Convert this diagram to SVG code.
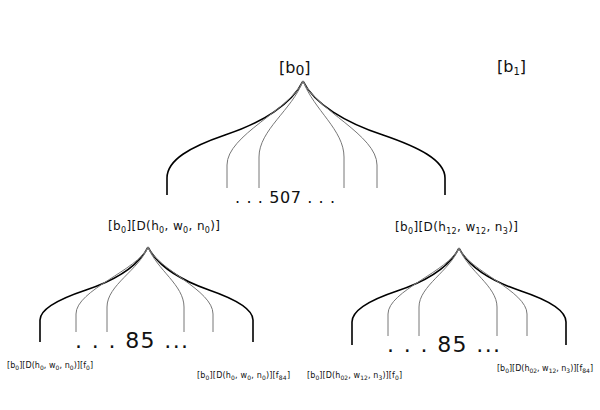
<svg xmlns="http://www.w3.org/2000/svg" width="600" height="410" viewBox="0 0 600 410">
<style>
text{font-family:"DejaVu Sans","Liberation Sans",sans-serif;fill:#111}
.outer{fill:none;stroke:#000;stroke-width:1.6}
.inner{fill:none;stroke:#777;stroke-width:1}
.root{font-size:16px}
.mid{font-size:12px}
.leaf{font-size:8px}
.cnt{font-size:22px}
</style>
<rect width="600" height="410" fill="#fff"/>
<g id="connectors">
<path class="outer" d="M303,81 C292,104 262,123 225,135 C190,147 167,160 167,178 L167,195"/>
<path class="outer" d="M303,81 C314,104 346,123 383,135 C418,147 445,160 445,178 L445,195"/>
<path class="inner" d="M303,81 C290,110 227,135 227,165 L227,188"/>
<path class="inner" d="M303,81 C292,110 259,130 259,157 L259,188"/>
<path class="inner" d="M303,81 C314,110 344,130 344,157 L344,188"/>
<path class="inner" d="M303,81 C316,110 377,135 377,165 L377,188"/>

<path class="outer" d="M148,247 C139,265 116,280 86,290 C59,299 40,309 40,320 L40,342"/>
<path class="outer" d="M148,247 C157,265 180,280 209,290 C235,299 253,309 253,320 L253,342"/>
<path class="inner" d="M148,247 C138,270 76,290 76,314 L76,332"/>
<path class="inner" d="M148,247 C139,270 107,285 107,307 L107,332"/>
<path class="inner" d="M148,247 C157,270 184,285 184,307 L184,332"/>
<path class="inner" d="M148,247 C158,270 213,290 213,314 L213,332"/>

<path class="outer" d="M459,248 C450,266 427,281 397,291 C370,300 352,310 352,322 L352,345"/>
<path class="outer" d="M459,248 C468,266 491,281 521,291 C548,300 566,310 566,322 L566,345"/>
<path class="inner" d="M459,248 C449,271 388,291 388,314 L388,336"/>
<path class="inner" d="M459,248 C450,271 419,286 419,307 L419,336"/>
<path class="inner" d="M459,248 C468,271 497,286 497,307 L497,336"/>
<path class="inner" d="M459,248 C469,271 527,291 527,314 L527,336"/>
</g>
<g id="b0">
<text class="root" x="279" y="73">[b<tspan font-size="14" dy="2">0</tspan><tspan dy="-2">]</tspan></text>
</g>
<g id="b1">
<text class="root" x="497" y="72">[b<tspan font-size="10" dy="3">1</tspan><tspan dy="-3">]</tspan></text>
</g>
<g id="count507">
<text font-size="16" x="235" y="203" textLength="100" lengthAdjust="spacing">. . .  507  . . .</text>
</g>
<g id="nodeL">
<text class="mid" x="108" y="230" textLength="112" lengthAdjust="spacing">[b<tspan font-size="8" dy="3">0</tspan><tspan dy="-3">][D(h</tspan><tspan font-size="8" dy="3">0</tspan><tspan dy="-3">, w</tspan><tspan font-size="8" dy="3">0</tspan><tspan dy="-3">, n</tspan><tspan font-size="8" dy="3">0</tspan><tspan dy="-3">)]</tspan></text>
</g>
<g id="nodeR">
<text class="mid" x="395" y="231" textLength="123" lengthAdjust="spacing">[b<tspan font-size="8" dy="3">0</tspan><tspan dy="-3">][D(h</tspan><tspan font-size="8" dy="3">12</tspan><tspan dy="-3">, w</tspan><tspan font-size="8" dy="3">12</tspan><tspan dy="-3">, n</tspan><tspan font-size="8" dy="3">3</tspan><tspan dy="-3">)]</tspan></text>
</g>
<g id="count85L">
<text class="cnt" x="75" y="348" textLength="113" lengthAdjust="spacing">. . . 85 ...</text>
</g>
<g id="count85R">
<text class="cnt" x="387" y="352" textLength="113" lengthAdjust="spacing">. . . 85 ...</text>
</g>
<g id="leafL0">
<text class="leaf" x="7" y="368" textLength="86" lengthAdjust="spacing">[b<tspan font-size="6" dy="2">0</tspan><tspan dy="-2">][D(h</tspan><tspan font-size="6" dy="2">0</tspan><tspan dy="-2">, w</tspan><tspan font-size="6" dy="2">0</tspan><tspan dy="-2">, n</tspan><tspan font-size="6" dy="2">0</tspan><tspan dy="-2">)][f</tspan><tspan font-size="6" dy="2">0</tspan><tspan dy="-2">]</tspan></text>
</g>
<g id="leafL84">
<text class="leaf" x="197" y="378" textLength="93" lengthAdjust="spacing">[b<tspan font-size="6" dy="2">0</tspan><tspan dy="-2">][D(h</tspan><tspan font-size="6" dy="2">0</tspan><tspan dy="-2">, w</tspan><tspan font-size="6" dy="2">0</tspan><tspan dy="-2">, n</tspan><tspan font-size="6" dy="2">0</tspan><tspan dy="-2">)][f</tspan><tspan font-size="6" dy="2">84</tspan><tspan dy="-2">]</tspan></text>
</g>
<g id="leafR0">
<text class="leaf" x="307" y="378" textLength="95" lengthAdjust="spacing">[b<tspan font-size="6" dy="2">0</tspan><tspan dy="-2">][D(h</tspan><tspan font-size="6" dy="2">02</tspan><tspan dy="-2">, w</tspan><tspan font-size="6" dy="2">12</tspan><tspan dy="-2">, n</tspan><tspan font-size="6" dy="2">3</tspan><tspan dy="-2">)][f</tspan><tspan font-size="6" dy="2">0</tspan><tspan dy="-2">]</tspan></text>
</g>
<g id="leafR84">
<text class="leaf" x="497" y="371" textLength="96" lengthAdjust="spacing">[b<tspan font-size="6" dy="2">0</tspan><tspan dy="-2">][D(h</tspan><tspan font-size="6" dy="2">02</tspan><tspan dy="-2">, w</tspan><tspan font-size="6" dy="2">12</tspan><tspan dy="-2">, n</tspan><tspan font-size="6" dy="2">3</tspan><tspan dy="-2">)][f</tspan><tspan font-size="6" dy="2">84</tspan><tspan dy="-2">]</tspan></text>
</g>
</svg>
